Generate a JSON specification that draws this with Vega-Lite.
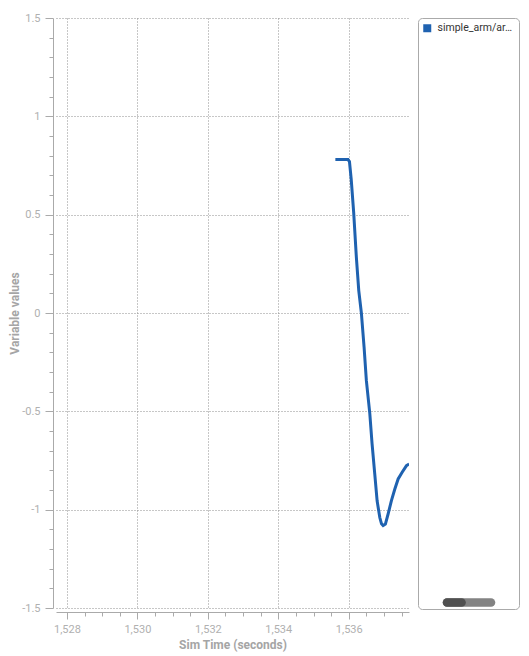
{
  "$schema": "https://vega.github.io/schema/vega-lite/v6.json",
  "padding": {"left": 8, "top": 12, "right": 7, "bottom": 4},
  "bounds": "flush",
  "spacing": 9,
  "config": {
    "font": "Roboto",
    "axis": {
      "domainColor": "#aaaaaa",
      "tickColor": "#aaaaaa",
      "labelColor": "#b0b0b0",
      "labelFontSize": 11,
      "titleColor": "#a5a5a5",
      "titleFontSize": 12,
      "titleFontWeight": "bold",
      "gridColor": "#8f8f8f",
      "gridDash": [1, 2],
      "gridWidth": 1
    }
  },
  "hconcat": [
    {
      "width": 353,
      "height": 590,
      "view": {"stroke": null},
      "data": {
        "values": [
          {"series": "simple_arm/arm_controller/state", "t": 1535.62, "v": 0.78},
          {"series": "simple_arm/arm_controller/state", "t": 1535.75, "v": 0.78},
          {"series": "simple_arm/arm_controller/state", "t": 1535.9, "v": 0.78},
          {"series": "simple_arm/arm_controller/state", "t": 1535.98, "v": 0.78},
          {"series": "simple_arm/arm_controller/state", "t": 1536.02, "v": 0.77},
          {"series": "simple_arm/arm_controller/state", "t": 1536.07, "v": 0.68},
          {"series": "simple_arm/arm_controller/state", "t": 1536.14, "v": 0.51},
          {"series": "simple_arm/arm_controller/state", "t": 1536.216, "v": 0.283},
          {"series": "simple_arm/arm_controller/state", "t": 1536.284, "v": 0.114},
          {"series": "simple_arm/arm_controller/state", "t": 1536.358, "v": 0.0},
          {"series": "simple_arm/arm_controller/state", "t": 1536.435, "v": -0.174},
          {"series": "simple_arm/arm_controller/state", "t": 1536.5, "v": -0.344},
          {"series": "simple_arm/arm_controller/state", "t": 1536.597, "v": -0.51},
          {"series": "simple_arm/arm_controller/state", "t": 1536.662, "v": -0.665},
          {"series": "simple_arm/arm_controller/state", "t": 1536.739, "v": -0.82},
          {"series": "simple_arm/arm_controller/state", "t": 1536.805, "v": -0.955},
          {"series": "simple_arm/arm_controller/state", "t": 1536.881, "v": -1.04},
          {"series": "simple_arm/arm_controller/state", "t": 1536.93, "v": -1.072},
          {"series": "simple_arm/arm_controller/state", "t": 1536.975, "v": -1.081},
          {"series": "simple_arm/arm_controller/state", "t": 1537.04, "v": -1.073},
          {"series": "simple_arm/arm_controller/state", "t": 1537.117, "v": -1.022},
          {"series": "simple_arm/arm_controller/state", "t": 1537.211, "v": -0.954},
          {"series": "simple_arm/arm_controller/state", "t": 1537.308, "v": -0.895},
          {"series": "simple_arm/arm_controller/state", "t": 1537.402, "v": -0.844},
          {"series": "simple_arm/arm_controller/state", "t": 1537.516, "v": -0.81},
          {"series": "simple_arm/arm_controller/state", "t": 1537.638, "v": -0.776},
          {"series": "simple_arm/arm_controller/state", "t": 1537.714, "v": -0.768}
        ]
      },
      "mark": {"type": "line", "strokeWidth": 3, "clip": true},
      "encoding": {
        "x": {
          "field": "t",
          "type": "quantitative",
          "scale": {"domain": [1527.69, 1537.71], "nice": false, "zero": false},
          "axis": {
            "title": "Sim Time (seconds)",
            "offset": 4,
            "values": [1528, 1528.5, 1529, 1529.5, 1530, 1530.5, 1531, 1531.5, 1532, 1532.5, 1533, 1533.5, 1534, 1534.5, 1535, 1535.5, 1536, 1536.5, 1537, 1537.5],
            "format": ",",
            "labelExpr": "datum.value % 2 === 0 ? datum.label : ''",
            "tickSize": {"condition": {"test": "datum.value % 2 === 0", "value": 7}, "value": 4},
            "gridOpacity": {"condition": {"test": "datum.value % 2 === 0", "value": 1}, "value": 0},
            "labelPadding": 4,
            "titlePadding": 5,
            "labelFlush": false
          }
        },
        "y": {
          "field": "v",
          "type": "quantitative",
          "scale": {"domain": [-1.5, 1.5], "nice": false, "zero": false},
          "axis": {
            "title": "Variable values",
            "offset": 3,
            "values": [-1.5, -1.4, -1.3, -1.2, -1.1, -1, -0.9, -0.8, -0.7, -0.6, -0.5, -0.4, -0.3, -0.2, -0.1, 0, 0.1, 0.2, 0.3, 0.4, 0.5, 0.6, 0.7, 0.8, 0.9, 1, 1.1, 1.2, 1.3, 1.4, 1.5],
            "labelExpr": "abs(datum.value * 2 - round(datum.value * 2)) < 0.001 ? toString(round(datum.value * 10) / 10) : ''",
            "tickSize": {"condition": {"test": "abs(datum.value * 2 - round(datum.value * 2)) < 0.001", "value": 8}, "value": 4},
            "gridOpacity": {"condition": {"test": "abs(datum.value * 2 - round(datum.value * 2)) < 0.001", "value": 1}, "value": 0},
            "labelPadding": 5,
            "titlePadding": 0,
            "labelFlush": false
          }
        },
        "color": {
          "field": "series",
          "type": "nominal",
          "scale": {"range": ["#1f62b0"]},
          "legend": {
            "title": null,
            "orient": "none",
            "legendX": 366,
            "legendY": 5,
            "padding": 0,
            "symbolType": "square",
            "symbolSize": 64,
            "symbolStrokeWidth": 0,
            "symbolFillColor": "#1f62b0",
            "labelFont": "Roboto",
            "labelFontSize": 10.5,
            "labelColor": "#333333",
            "labelOffset": 5,
            "labelLimit": 84
          }
        }
      }
    },
    {
      "width": 101,
      "height": 591,
      "view": {"stroke": "#aaaaaa", "cornerRadius": 4, "strokeWidth": 1},
      "data": {
        "values": [
          {"part": "track", "from": 0, "to": 1},
          {"part": "thumb", "from": 0, "to": 0.33}
        ]
      },
      "layer": [
        {
          "transform": [{"filter": "datum.part === 'track'"}],
          "mark": {"type": "rule", "strokeWidth": 8.6, "strokeCap": "round", "color": "#838383"},
          "encoding": {
            "x": {"field": "from", "type": "quantitative", "scale": {"domain": [-0.66, 1.637], "nice": false, "zero": false}, "axis": null},
            "x2": {"field": "to"},
            "y": {"datum": 0.011, "type": "quantitative", "scale": {"domain": [0, 1], "nice": false}, "axis": null}
          }
        },
        {
          "transform": [{"filter": "datum.part === 'thumb'"}],
          "mark": {"type": "rule", "strokeWidth": 8.6, "strokeCap": "round", "color": "#505050"},
          "encoding": {
            "x": {"field": "from", "type": "quantitative", "scale": {"domain": [-0.66, 1.637], "nice": false, "zero": false}, "axis": null},
            "x2": {"field": "to"},
            "y": {"datum": 0.011, "type": "quantitative", "scale": {"domain": [0, 1], "nice": false}, "axis": null}
          }
        }
      ]
    }
  ]
}
